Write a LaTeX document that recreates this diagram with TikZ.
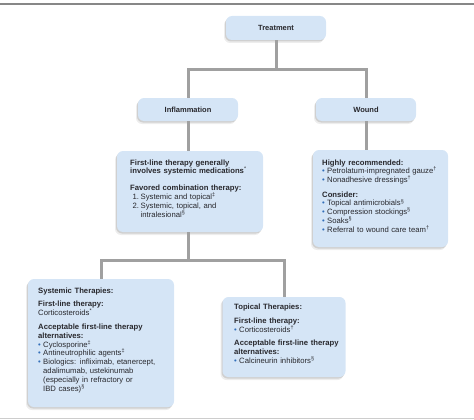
\documentclass[tikz,border=0pt]{standalone}
\usepackage{fontspec}
\setmainfont{Liberation Sans}
\usetikzlibrary{shadows}
\definecolor{boxfill}{RGB}{213,229,246}
\definecolor{linec}{RGB}{160,160,160}
\definecolor{rulec}{RGB}{135,135,135}
\definecolor{rulelt}{RGB}{205,205,205}
\definecolor{txt}{RGB}{40,40,45}
\definecolor{bulc}{RGB}{50,110,185}
\newcommand\mybul{\makebox[5pt][l]{\textcolor{bulc}{\textbullet}}}
\newcommand\myind{\hspace*{5pt}}
\newcommand\supast{\textsuperscript{*}}
\newcommand\supdag{\textsuperscript{†}}
\newcommand\supddag{\textsuperscript{‡}}
\newcommand\supsec{\textsuperscript{§}}
\tikzset{
  tbox/.style={draw=none, fill=boxfill, rounded corners=6pt, inner sep=0pt,
    drop shadow={shadow xshift=-2pt, shadow yshift=-3pt, opacity=0.07, fill=black},
    drop shadow={shadow xshift=-1pt, shadow yshift=-1.5pt, opacity=0.12, fill=black}},
  headbox/.style={tbox, text=txt, font=\fontsize{7.5}{8.8}\selectfont\bfseries},
  bodytext/.style={anchor=base west, inner sep=0pt, align=left, text width=#1,
    text=txt, font=\fontsize{7.7}{8.8}\selectfont},
  conn/.style={draw=linec, line width=3pt},
}
\begin{document}
\begin{tikzpicture}[x=1pt,y=-1pt]
\useasboundingbox (0,0) rectangle (474,420);
\draw[rulec, line width=1.6pt] (0,4) -- (474,4);
\draw[rulelt, line width=0.6pt] (0,418) -- (474,418);

% boxes
\node[headbox, minimum width=100pt, minimum height=24pt] (treat) at (276,28) {Treatment};
\node[headbox, minimum width=100pt, minimum height=23pt] (infl) at (188,109.5) {Inflammation};
\node[headbox, minimum width=100pt, minimum height=23pt] (wound) at (366,109.5) {Wound};
\node[tbox, minimum width=146pt, minimum height=81pt] (fl) at (190,191.5) {};
\node[tbox, minimum width=135pt, minimum height=97pt] (wd) at (380.5,198.5) {};
\node[tbox, minimum width=146pt, minimum height=128pt] (sys) at (101,343) {};
\node[tbox, minimum width=123pt, minimum height=80pt] (top) at (284,337) {};

% connectors
\coordinate (j1) at (276,70);
\coordinate (j2) at (188,260);
\draw[conn] (treat.south) -- (j1);
\draw[conn] (infl.north) |- (j1) -| (wound.north);
\draw[conn] (infl.south) -- (infl.south |- fl.north);
\draw[conn] (wound.south) -- (wound.south |- wd.north);
\draw[conn] (j2 |- fl.south) -- (j2);
\draw[conn] (sys.north) |- (j2) -| (top.north);

% texts
\node[bodytext=132pt] (fltext) at (130,165) {\textbf{First-line therapy generally}\\
\textbf{involves systemic medications}\supast\\[8pt]
\textbf{Favored combination therapy:}\\
\hspace*{2.5pt}\makebox[8pt][l]{1.}Systemic and topical\supddag\\
\hspace*{2.5pt}\makebox[8pt][l]{2.}Systemic, topical, and\\
\hspace*{10.5pt}intralesional\supsec};

\node[bodytext=124pt] (wdtext) at (322,165) {\textbf{Highly recommended:}\\
\mybul Petrolatum-impregnated gauze\supdag\\
\mybul Nonadhesive dressings\supdag\\[5.7pt]
\textbf{Consider:}\\
\mybul Topical antimicrobials\supsec\\
\mybul Compression stockings\supsec\\
\mybul Soaks\supsec\\
\mybul Referral to wound care team\supdag};

\node[bodytext=134pt] (systext) at (38,293) {\textbf{Systemic Therapies:}\\[5pt]
\textbf{First-line therapy:}\\
Corticosteroids\supast\\[5pt]
\textbf{Acceptable first-line therapy}\\
\textbf{alternatives:}\\
\mybul Cyclosporine\supddag\\
\mybul Antineutrophilic agents\supddag\\
\mybul Biologics: infliximab, etanercept,\\
\myind adalimumab, ustekinumab\\
\myind (especially in refractory or\\
\myind IBD cases)\supsec};

\node[bodytext=112pt] (toptext) at (234,309) {\textbf{Topical Therapies:}\\[5.5pt]
\textbf{First-line therapy:}\\
\mybul Corticosteroids\supdag\\[5pt]
\textbf{Acceptable first-line therapy}\\
\textbf{alternatives:}\\
\mybul Calcineurin inhibitors\supsec};
\end{tikzpicture}
\end{document}
